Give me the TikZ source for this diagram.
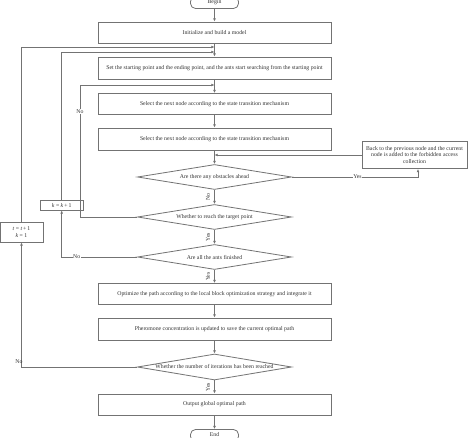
\documentclass[tikz,border=0pt]{standalone}
\usepackage{fontspec}
\setmainfont{Liberation Serif}
\usetikzlibrary{shapes.geometric,arrows.meta}
\definecolor{lc}{gray}{0.45}
\definecolor{tc}{gray}{0.2}
\tikzset{
  every node/.style={font=\fontsize{5.8}{6.8}\selectfont, text=tc},
  box/.style={draw=lc, line width=0.8pt, rectangle, minimum width=233pt, inner sep=1pt},
  dia/.style={draw=lc, line width=0.8pt, diamond, minimum width=154pt, minimum height=25pt, inner sep=0pt},
  term/.style={draw=lc, line width=0.8pt, rectangle, rounded corners=5pt, minimum width=48pt, minimum height=12pt, inner sep=0pt},
  sbox/.style={draw=lc, line width=0.8pt, rectangle, inner sep=1pt, align=center},
  con/.style={draw=lc, line width=0.7pt},
  arr/.style={con, -{Latex[length=3.2pt,width=2.8pt]}},
  lbl/.style={fill=white, inner sep=0.6pt},
}
\begin{document}
\begin{tikzpicture}[x=1pt,y=-1pt]
\useasboundingbox (0,0) rectangle (474,438);
\fill[white] (0,0) rectangle (474,438);

\node[term] (begin) at (214.5,2.5) {\raisebox{-2pt}{Begin}};
\node[box, minimum height=21pt] (init) at (214.5,32.5) {Initialize and build a model};
\node[box, minimum height=22pt] (set) at (214.5,68) {Set the starting point and the ending point, and the ants start searching from the starting point};
\node[box, minimum height=21pt] (sel1) at (214.5,104) {Select the next node according to the state transition mechanism};
\node[box, minimum height=22pt] (sel2) at (214.5,139) {Select the next node according to the state transition mechanism};
\node[dia, label={center:Are there any obstacles ahead}] (d1) at (214.5,177) {};
\node[dia, label={center:Whether to reach the target point}] (d2) at (214.5,217) {};
\node[dia, label={center:Are all the ants finished}] (d3) at (214.5,257) {};
\node[box, minimum height=21pt] (opt) at (214.5,294) {Optimize the path according to the local block optimization strategy and integrate it};
\node[box, minimum height=22pt] (pher) at (214.5,329) {Pheromone concentration is updated to save the current optimal path};
\node[dia, minimum height=26pt, label={center:Whether the number of iterations has been reached}] (d4) at (214.5,367) {};
\node[box, minimum height=21pt] (out) at (214.5,404.5) {Output global optimal path};
\node[term] (end) at (214.5,435.5) {\raisebox{1.5pt}{End}};

\node[sbox, minimum width=105pt, minimum height=27pt] (back) at (414.5,155)
  {Back to the previous node and the current\\[-0.5pt] node is added to the forbidden access\\[-0.5pt] collection};
\node[sbox, minimum width=43pt, minimum height=10pt, inner sep=0pt] (kb) at (61.7,205) {\textit{k} = \textit{k}\,+\,1};
\node[sbox, minimum width=43pt, minimum height=20pt, inner sep=0pt] (tb) at (21.5,232) {\textit{t} = \textit{t}\,+\,1\\[0pt]\textit{k} = 1};

\coordinate (j1) at (214.5,47);
\coordinate (j2) at (214.5,52);
\coordinate (j3) at (214.5,85);
\coordinate (j4) at (214.5,155);
\coordinate (t1) at (21.5,47);
\coordinate (k1) at (61.7,52);
\coordinate (n2) at (80,85);
\coordinate (yb) at (418,169);

% main flow
\draw[arr] (begin) -- (init);
\draw[arr] (init) -- (set);
\draw[arr] (set) -- (sel1);
\draw[arr] (sel1) -- (sel2);
\draw[arr] (sel2) -- (d1);
\draw[arr] (d1) -- node[rotate=90, anchor=south, yshift=1pt] {No} (d2);
\draw[arr] (d2) -- node[rotate=90, anchor=south, yshift=1pt] {Yes} (d3);
\draw[arr] (d3) -- node[rotate=90, anchor=south, yshift=1pt] {Yes} (opt);
\draw[arr] (opt) -- (pher);
\draw[arr] (pher) -- (d4);
\draw[arr] (d4) -- node[rotate=90, anchor=south, yshift=1pt] {Yes} (out);
\draw[arr] (out) -- (end);

% obstacle loop
\draw[arr] (d1.east) -| node[pos=0.26, lbl] {Yes} (yb);
\draw[arr] (back.west) -- (j4);

% target not reached
\draw[arr] (d2.west) -| node[pos=0.9, lbl] {No} (n2) -- (j3);

% ants not finished
\draw[arr] (d3.west) -| node[pos=0.4, lbl] {No} (kb.south);
\draw[arr] (kb.north) -- (k1) -- (j2);

% iterations not reached
\draw[arr] (d4.west) -| (tb.south);
\node at (19,361.5) {No};
\draw[arr] (tb.north) -- (t1) -- (j1);
\end{tikzpicture}
\end{document}
